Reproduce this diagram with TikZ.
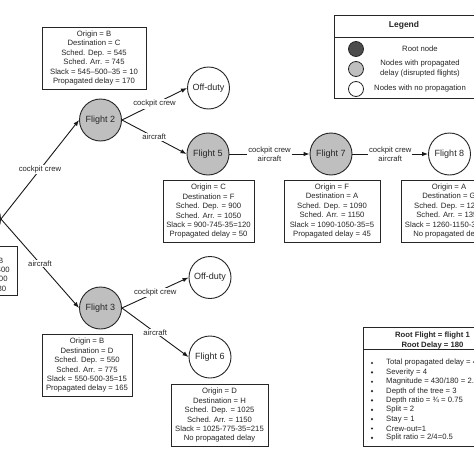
\documentclass[tikz,border=0pt]{standalone}
\usepackage{fontspec}
\setmainfont{Liberation Sans}
\usetikzlibrary{arrows.meta}
\begin{document}
\begin{tikzpicture}[x=1pt,y=-1pt,
  every node/.style={font=\fontsize{7.7}{9.4}\selectfont, text=black!85},
  flight/.style={circle, draw=black!85, line width=0.9pt, minimum size=42pt, inner sep=0pt, font=\fontsize{9}{11}\selectfont},
  prop/.style={flight, fill=gray!50},
  noprop/.style={flight, fill=white},
  rootnode/.style={flight, fill=black!70},
  infobox/.style={draw=black!85, line width=0.9pt, align=center, inner sep=0pt, minimum height=62pt},
  conn/.style={draw=black!90, line width=0.9pt, -{Latex[length=6pt,width=4.5pt]}},
  elabel/.style={fill=white, inner sep=1pt, align=center},
  framebox/.style={draw=black!85, line width=0.9pt},
  legcirc/.style={circle, draw=black!85, line width=0.8pt, minimum size=15pt, inner sep=0pt},
]
\useasboundingbox (0,0) rectangle (474,474);
\fill[white] (0,0) rectangle (474,474);
\clip (0,0) rectangle (474,474);

% flight nodes
\node[rootnode] (f1) at (-20.5,219) {};
\node[prop] (f2) at (100.5,120) {Flight 2};
\node[noprop] (off1) at (208.5,88) {Off-duty};
\node[prop] (f5) at (208,154) {Flight 5};
\node[prop] (f7) at (331,154) {Flight 7};
\node[noprop] (f8) at (449.5,154) {Flight 8};
\node[prop] (f3) at (100.5,308) {Flight 3};
\node[noprop] (off2) at (210,277.5) {Off-duty};
\node[noprop] (f6) at (210,357) {Flight 6};

% connectors
\draw[conn] (f1.east) -- node[elabel] (l1) {cockpit crew} (f2.west);
\draw[conn] (f1.east) -- node[elabel] (l2) {aircraft} (f3.west);
\draw[conn] (f2.east) -- node[elabel] (l3) {cockpit crew} (off1.west);
\draw[conn] (f2.east) -- node[elabel] (l4) {aircraft} (f5.west);
\draw[conn] (f5.east) -- node[elabel] (l5) {cockpit crew\\aircraft} (f7.west);
\draw[conn] (f7.east) -- node[elabel] (l6) {cockpit crew\\aircraft} (f8.west);
\draw[conn] (f3.east) -- node[elabel] (l7) {cockpit crew} (off2.west);
\draw[conn] (f3.east) -- node[elabel] (l8) {aircraft} (f6.west);

% information boxes
\node[infobox, minimum width=80pt, minimum height=49pt] (b1) at (-23,270.5)
  {Origin = A\\Destination = B\\Sched. Dep. = 400\\Sched. Arr. = 500\\Root delay = 180};
\node[infobox, minimum width=104pt] (b2) at (94,58)
  {Origin = B\\Destination = C\\Sched. Dep. = 545\\Sched. Arr. = 745\\Slack = 545–500–35 = 10\\Propagated delay = 170};
\node[infobox, minimum width=91pt] (b5) at (208.5,211.5)
  {Origin = C\\Destination = F\\Sched. Dep. = 900\\Sched. Arr. = 1050\\Slack = 900-745-35=120\\Propagated delay = 50};
\node[infobox, minimum width=96pt] (b7) at (332,211)
  {Origin = F\\Destination = A\\Sched. Dep. = 1090\\Sched. Arr. = 1150\\Slack = 1090-1050-35=5\\Propagated delay = 45};
\node[infobox, minimum width=96pt] (b8) at (449,211)
  {Origin = A\\Destination = G\\Sched. Dep. = 1260\\Sched. Arr. = 1350\\Slack = 1260-1150-35=75\\No propagated delay};
\node[infobox, minimum width=90pt] (b3) at (87,365.5)
  {Origin = B\\Destination = D\\Sched. Dep. = 550\\Sched. Arr. = 775\\Slack = 550-500-35=15\\Propagated delay = 165};
\node[infobox, minimum width=97pt] (b6) at (219.5,415.5)
  {Origin = D\\Destination = H\\Sched. Dep. = 1025\\Sched. Arr. = 1150\\Slack = 1025-775-35=215\\No propagated delay};

% legend
\draw[framebox] (334,15) rectangle (477,98.5);
\draw[framebox] (334,37) -- (477,37);
\node[font=\fontsize{8.5}{10}\selectfont\bfseries] (legt) at (404,25.5) {Legend};
\node[legcirc, fill=black!70] (lc1) at (356,49) {};
\node[legcirc, fill=gray!50] (lc2) at (356,69) {};
\node[legcirc, fill=white] (lc3) at (356,89) {};
\node (lt1) at (420,49) {Root node};
\node[align=center] (lt2) at (420,68.5) {Nodes with propagated\\delay (disrupted flights)};
\node (lt3) at (420,89) {Nodes with no propagation};

% summary box
\draw[framebox] (363,327) rectangle (502,446);
\draw[framebox] (363,349) -- (502,349);
\node[align=center, font=\fontsize{7.7}{9.2}\selectfont\bfseries] (st) at (432.5,340.5) {Root Flight = flight 1\\Root Delay = 180};
\foreach \t [count=\i from 0] in {Total propagated delay = 430, Severity = 4, Magnitude = 430/180 = 2.39, Depth of the tree = 3, Depth ratio = ¾ = 0.75, Split = 2, Stay = 1, Crew-out=1, Split ratio = 2/4=0.5}{
  \node[circle, fill=black!85, inner sep=0pt, minimum size=2.4pt] (bu\i) at (372,363+9.36*\i) {};
  \node[anchor=west, inner sep=0pt] (it\i) at (386,363+9.36*\i) {\t};
}
\end{tikzpicture}
\end{document}
